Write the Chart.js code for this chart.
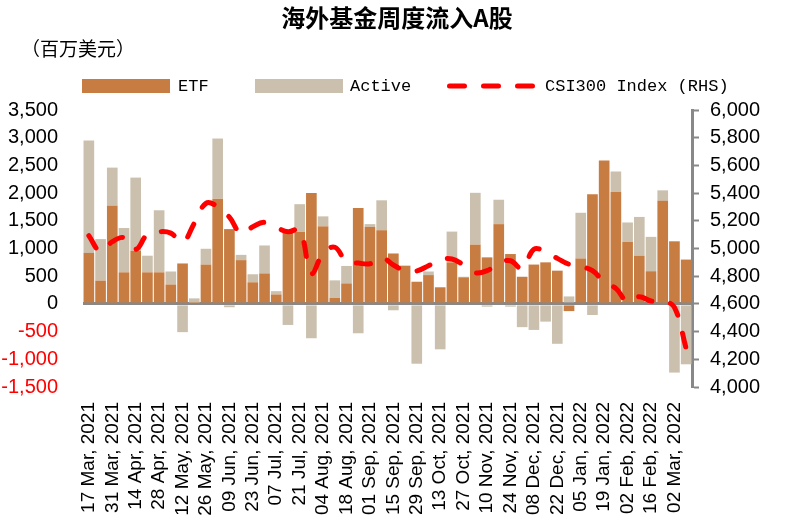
<!DOCTYPE html>
<html>
<head>
<meta charset="utf-8">
<script src="https://cdn.jsdelivr.net/npm/chart.js@4.4.1/dist/chart.umd.min.js"></script>
<style>
  body { margin: 0; background: #fff; }
</style>
</head>
<body>
<canvas id="grafico_fluxo" width="791" height="530"></canvas>
<script>
const titulo = "海外基金周度流入A股";
const unidade = "（百万美元）";

const semanas = [
  "17 Mar, 2021", "24 Mar, 2021", "31 Mar, 2021", "07 Apr, 2021", "14 Apr, 2021", "21 Apr, 2021",
  "28 Apr, 2021", "05 May, 2021", "12 May, 2021", "19 May, 2021", "26 May, 2021", "02 Jun, 2021",
  "09 Jun, 2021", "16 Jun, 2021", "23 Jun, 2021", "30 Jun, 2021", "07 Jul, 2021", "14 Jul, 2021",
  "21 Jul, 2021", "28 Jul, 2021", "04 Aug, 2021", "11 Aug, 2021", "18 Aug, 2021", "25 Aug, 2021",
  "01 Sep, 2021", "08 Sep, 2021", "15 Sep, 2021", "22 Sep, 2021", "29 Sep, 2021", "06 Oct, 2021",
  "13 Oct, 2021", "20 Oct, 2021", "27 Oct, 2021", "03 Nov, 2021", "10 Nov, 2021", "17 Nov, 2021",
  "24 Nov, 2021", "01 Dec, 2021", "08 Dec, 2021", "15 Dec, 2021", "22 Dec, 2021", "29 Dec, 2021",
  "05 Jan, 2022", "12 Jan, 2022", "19 Jan, 2022", "26 Jan, 2022", "02 Feb, 2022", "09 Feb, 2022",
  "16 Feb, 2022", "23 Feb, 2022", "02 Mar, 2022", "09 Mar, 2022"
];

const etf = [
  920, 420, 1770, 570, 960, 570, 570, 350, 730, 20, 710, 1900, 1350,
  790, 390, 550, 170, 1310, 1300, 2000, 1400, 110, 370, 1730, 1390, 1330,
  910, 690, 400, 520, 300, 750, 480, 1070, 840, 1440, 900, 490, 710,
  750, 600, -130, 820, 1980, 2590, 2020, 1120, 870, 590, 1860, 1130, 800
];

const active = [
  2030, 750, 690, 800, 1320, 300, 1120, 235, -510, 80, 285, 1085, -60,
  95, 145, 505, 60, -380, 500, -620, 180, 315, 315, -530, 50, 540,
  -115, 0, -1080, 65, -820, 555, 10, 935, -50, 440, -50, -420, -470,
  -320, -720, 135, 825, -200, 0, 370, 350, 700, 620, 190, -1240, -1090
];

const csi300 = [
  5092, 4978, 5049, 5078, 4994, 5102, 5121, 5111, 5045, 5182, 5326, 5302, 5226,
  5109, 5157, 5189, 5153, 5121, 5134, 4821, 4965, 5009, 4905, 4895, 4890, 4934,
  4881, 4840, 4838, 4876, 4917, 4924, 4881, 4825, 4840, 4893, 4912, 4855, 4994,
  4977, 4929, 4886, 4869, 4840, 4760, 4712, 4616, 4652, 4621, 4621, 4575, 4279
];

const cor_etf = "#C77C42";
const cor_active = "#CBC0AE";
const cor_csi = "#FF0000";
const cor_eixo = "#888888";

// titulo, unidade e legenda desenhados a mao
const cabecalho = {
  id: "cabecalho",
  afterDraw(chart) {
    const ctx = chart.ctx;
    const ds = chart.data.datasets;
    ctx.save();
    ctx.fillStyle = "#000";
    ctx.textBaseline = "middle";

    ctx.font = 'bold 24px "Noto Sans CJK SC"';
    ctx.textAlign = "center";
    ctx.fillText(titulo, 397, 18);

    ctx.font = '19px "Noto Sans CJK SC"';
    ctx.textAlign = "left";
    ctx.fillText(unidade, 21, 49);

    ctx.fillStyle = ds[0].backgroundColor;
    ctx.fillRect(82, 79, 88, 14);
    ctx.fillStyle = ds[1].backgroundColor;
    ctx.fillRect(255, 79, 88, 14);

    ctx.strokeStyle = ds[2].borderColor;
    ctx.lineWidth = 5;
    ctx.lineCap = "round";
    ctx.setLineDash([15, 19]);
    ctx.beginPath();
    ctx.moveTo(449.5, 86);
    ctx.lineTo(534, 86);
    ctx.stroke();
    ctx.setLineDash([]);

    ctx.fillStyle = "#000";
    ctx.font = '17px "Liberation Mono"';
    ctx.fillText(ds[0].label, 178, 86);
    ctx.fillText(ds[1].label, 350, 86);
    ctx.fillText(ds[2].label, 545, 86);
    ctx.restore();
  },
};

Chart.defaults.font.family = '"Liberation Sans", Arial, sans-serif';
Chart.defaults.color = "#000";

const g_fluxo = document.getElementById("grafico_fluxo");

new Chart(g_fluxo, {
  type: "bar",
  data: {
    labels: semanas,
    datasets: [
      {
        label: "ETF",
        data: etf,
        backgroundColor: cor_etf,
        yAxisID: "y",
        stack: "fluxo",
        order: 1,
        barPercentage: 0.91,
        categoryPercentage: 1.0,
      },
      {
        label: "Active",
        data: active,
        backgroundColor: cor_active,
        yAxisID: "y",
        stack: "fluxo",
        order: 1,
        barPercentage: 0.91,
        categoryPercentage: 1.0,
      },
      {
        type: "line",
        label: "CSI300 Index (RHS)",
        data: csi300,
        yAxisID: "y1",
        borderColor: cor_csi,
        borderWidth: 5,
        borderDash: [14, 19],
        borderCapStyle: "round",
        tension: 0.4,
        pointRadius: 0,
        fill: false,
        order: 0,
      },
    ],
  },
  plugins: [cabecalho],
  options: {
    responsive: false,
    animation: false,
    layout: { padding: { top: 110, left: 0, right: 0, bottom: 0 } },
    plugins: {
      legend: { display: false },
      tooltip: { enabled: false },
    },
    scales: {
      x: {
        stacked: true,
        grid: { display: false, drawTicks: false },
        border: { display: false },
        ticks: {
          autoSkip: false,
          minRotation: 90,
          maxRotation: 90,
          padding: 15,
          font: { size: 19 },
          callback: function (valor, i) {
            return i % 2 === 0 ? semanas[i] : "";
          },
        },
        afterFit: function (escala) {
          escala.height = 143;
        },
      },
      y: {
        stacked: true,
        position: "left",
        min: -1500,
        max: 3500,
        border: { display: false },
        grid: {
          drawTicks: false,
          lineWidth: 3,
          color: (c) => (c.tick && c.tick.value === 0 ? cor_eixo : "rgba(0,0,0,0)"),
        },
        ticks: {
          stepSize: 500,
          padding: 25,
          font: { size: 20 },
          color: (c) => (c.tick && c.tick.value < 0 ? "#FF0000" : "#000"),
          callback: (v) => v.toLocaleString("en-US"),
        },
        afterFit: function (escala) {
          escala.width = 83;
        },
      },
      y1: {
        position: "right",
        min: 4000,
        max: 6000,
        border: { display: true, color: cor_eixo, width: 3 },
        grid: {
          drawOnChartArea: false,
          drawTicks: true,
          tickLength: 7,
          tickColor: cor_eixo,
          tickWidth: 2,
        },
        ticks: {
          stepSize: 200,
          padding: 11,
          font: { size: 20 },
          callback: (v) => v.toLocaleString("en-US"),
        },
        afterFit: function (escala) {
          escala.width = 99;
        },
      },
    },
  },
});
</script>
</body>
</html>
